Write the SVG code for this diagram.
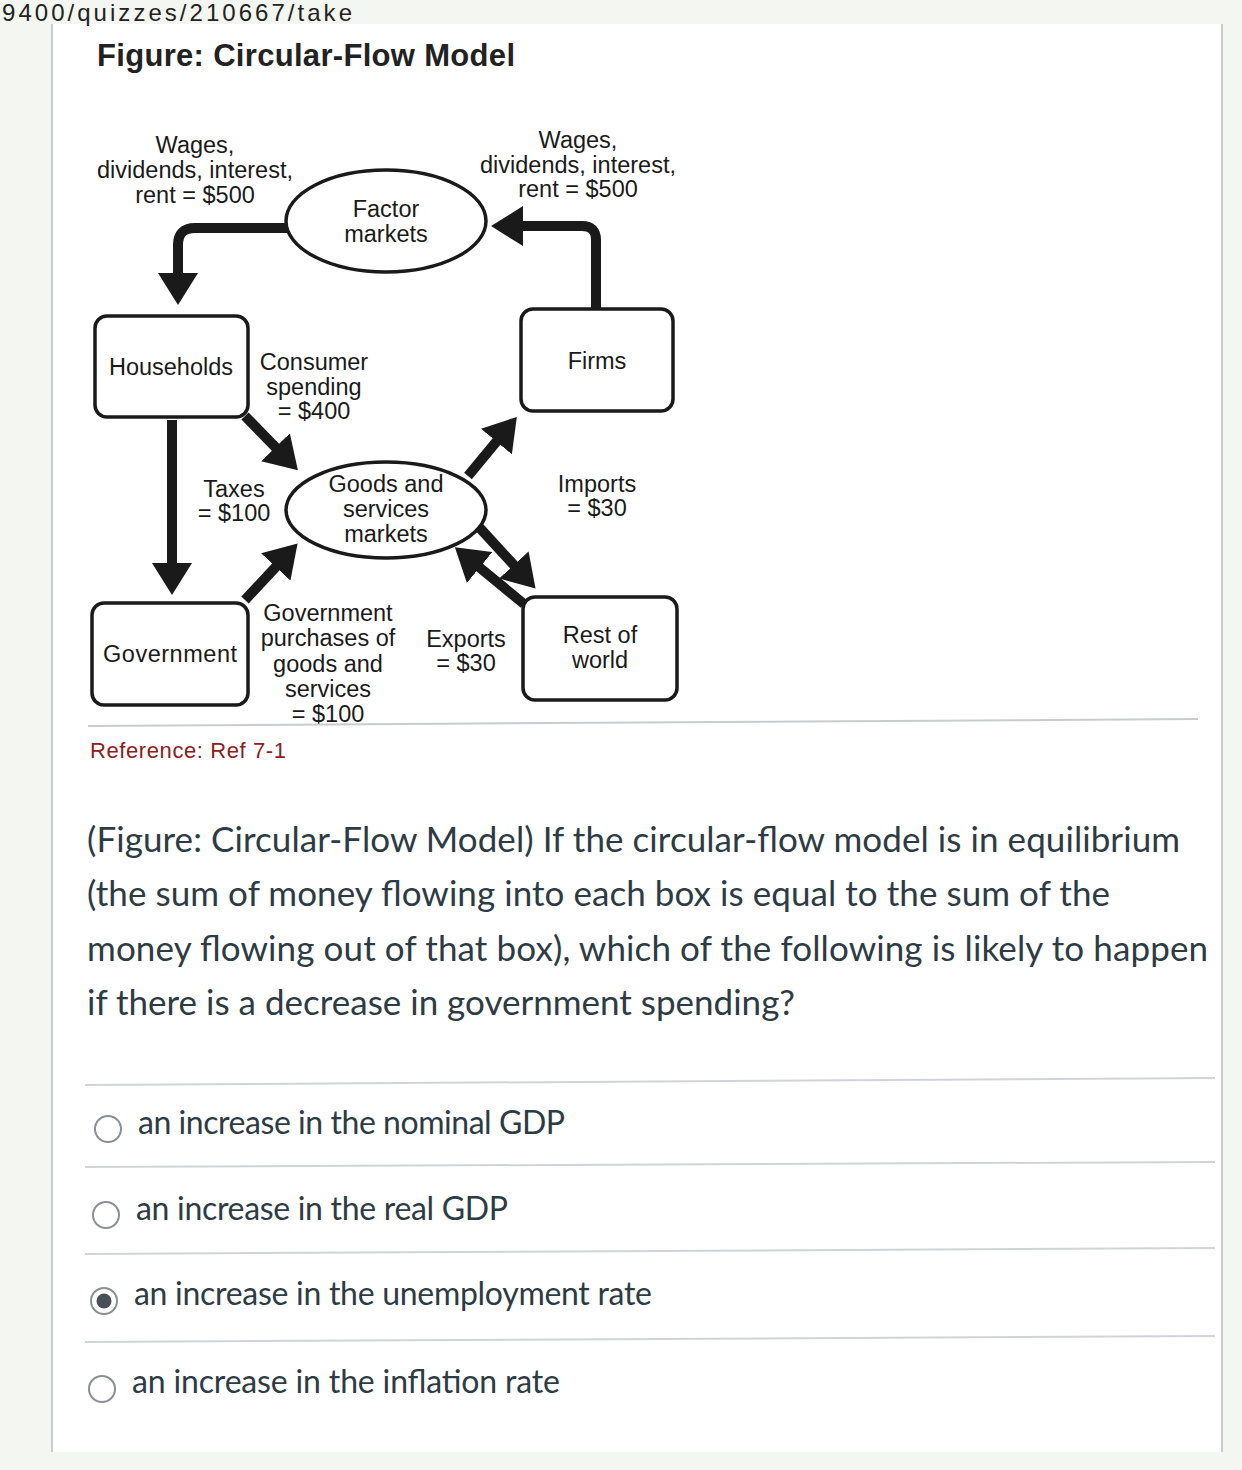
<svg xmlns="http://www.w3.org/2000/svg" width="1242" height="1470" viewBox="0 0 1242 1470">
<style>
.t{font-family:"Liberation Sans",Arial,sans-serif;fill:#222}
.d{font-family:"Liberation Sans",Arial,sans-serif;font-size:23.5px;fill:#1a1a1a;text-anchor:middle}
.q{font-family:Lato,"Liberation Sans",sans-serif;font-size:35px;fill:#2d3b45}
.o{font-family:Lato,"Liberation Sans",sans-serif;font-size:32px;fill:#2d3b45}
.box{fill:#fff;stroke:#1a1a1a;stroke-width:3.5}
.ar{fill:none;stroke:#1a1a1a;stroke-width:10}
.sep{stroke:#d0d4d8;stroke-width:2}
.rad{fill:#fff;stroke:#8a8f95;stroke-width:2}
</style>
<defs>
<marker id="ah" markerWidth="4" markerHeight="4" refX="1.5" refY="2" orient="auto" markerUnits="strokeWidth">
<path d="M0,0 L3.2,2 L0,4 z" fill="#1a1a1a"/>
</marker>
</defs>
<rect width="1242" height="1470" fill="#f4f6f2"/>
<rect x="52" y="24" width="1170" height="1428" fill="#fff"/>
<line x1="52" y1="24" x2="52" y2="1452" stroke="#c8ccd0" stroke-width="2"/>
<line x1="1222" y1="24" x2="1222" y2="1452" stroke="#c8ccd0" stroke-width="2"/>
<text class="t" x="2" y="21" font-size="24" fill="#444" textLength="350">9400/quizzes/210667/take</text>
<text class="t" x="97" y="66" font-size="31" font-weight="bold" textLength="418">Figure: Circular-Flow Model</text>

<g id="connectors">
<path class="ar" d="M287,228 H195 Q178,228 178,245 V288" marker-end="url(#ah)"/>
<path class="ar" d="M596,308 V240 Q596,226 582,226 H508" marker-end="url(#ah)"/>
<path class="ar" d="M172,420 V578" marker-end="url(#ah)"/>
<path class="ar" d="M245,416 L286,458" marker-end="url(#ah)"/>
<path class="ar" d="M245,600 L286,556" marker-end="url(#ah)"/>
<path class="ar" d="M468,476 L506,430" marker-end="url(#ah)"/>
<path class="ar" d="M478,526 L524,576" marker-end="url(#ah)"/>
<path class="ar" d="M524,604 L468,558" marker-end="url(#ah)"/>
</g>

<g id="factor"><ellipse class="box" cx="386" cy="221" rx="100" ry="51"/><text class="d" x="386" y="217">Factor</text><text class="d" x="386" y="242">markets</text></g>
<g id="households"><rect class="box" x="95" y="316" width="153" height="101" rx="12"/><text class="d" x="171" y="375">Households</text></g>
<g id="firms"><rect class="box" x="521" y="309" width="152" height="102" rx="12"/><text class="d" x="597" y="369">Firms</text></g>
<g id="goods"><ellipse class="box" cx="386" cy="510" rx="100" ry="48"/><text class="d" x="386" y="492">Goods and</text><text class="d" x="386" y="517">services</text><text class="d" x="386" y="542">markets</text></g>
<g id="government"><rect class="box" x="92" y="603" width="156" height="102" rx="12"/><text class="d" x="170" y="662" textLength="134">Government</text></g>
<g id="rest"><rect class="box" x="523" y="597" width="154" height="103" rx="12"/><text class="d" x="600" y="643">Rest of</text><text class="d" x="600" y="668">world</text></g>

<g id="labels">
<text class="d" x="195" y="153">Wages,</text><text class="d" x="195" y="178">dividends, interest,</text><text class="d" x="195" y="203">rent = $500</text>
<text class="d" x="578" y="148">Wages,</text><text class="d" x="578" y="173">dividends, interest,</text><text class="d" x="578" y="197">rent = $500</text>
<text class="d" x="314" y="370">Consumer</text><text class="d" x="314" y="395">spending</text><text class="d" x="314" y="419">= $400</text>
<text class="d" x="234" y="497">Taxes</text><text class="d" x="234" y="521">= $100</text>
<text class="d" x="597" y="492">Imports</text><text class="d" x="597" y="516">= $30</text>
<text class="d" x="328" y="621">Government</text><text class="d" x="328" y="646">purchases of</text><text class="d" x="328" y="672">goods and</text><text class="d" x="328" y="697">services</text><text class="d" x="328" y="722">= $100</text>
<text class="d" x="466" y="647">Exports</text><text class="d" x="466" y="671">= $30</text>
</g>
<line x1="88" y1="726" x2="1198" y2="719" stroke="#c8ccd0" stroke-width="2"/>
<text class="t" x="90" y="758" font-size="22" style="fill:#8b2020" textLength="196">Reference: Ref 7-1</text>

<text class="q" x="87" y="852" textLength="1093">(Figure: Circular-Flow Model) If the circular-flow model is in equilibrium</text>
<text class="q" x="87" y="906" textLength="1023">(the sum of money flowing into each box is equal to the sum of the</text>
<text class="q" x="87" y="961" textLength="1121">money flowing out of that box), which of the following is likely to happen</text>
<text class="q" x="87" y="1015" textLength="708">if there is a decrease in government spending?</text>

<line class="sep" x1="85" y1="1085" x2="1215" y2="1078"/>
<line class="sep" x1="85" y1="1167" x2="1215" y2="1162"/>
<line class="sep" x1="85" y1="1254" x2="1215" y2="1248"/>
<line class="sep" x1="85" y1="1342" x2="1215" y2="1336"/>
<g id="opt1"><circle class="rad" cx="108" cy="1129" r="13"/><text class="o" x="138" y="1134" textLength="427">an increase in the nominal GDP</text></g>
<g id="opt2"><circle class="rad" cx="106" cy="1215" r="13"/><text class="o" x="136" y="1220" textLength="372">an increase in the real GDP</text></g>
<g id="opt3"><circle class="rad" cx="104" cy="1301" r="13"/><circle cx="104" cy="1301" r="7.5" fill="#4a4f55"/><text class="o" x="134" y="1305" textLength="518">an increase in the unemployment rate</text></g>
<g id="opt4"><circle class="rad" cx="102" cy="1389" r="13"/><text class="o" x="132" y="1393" textLength="428">an increase in the inflation rate</text></g>
</svg>
